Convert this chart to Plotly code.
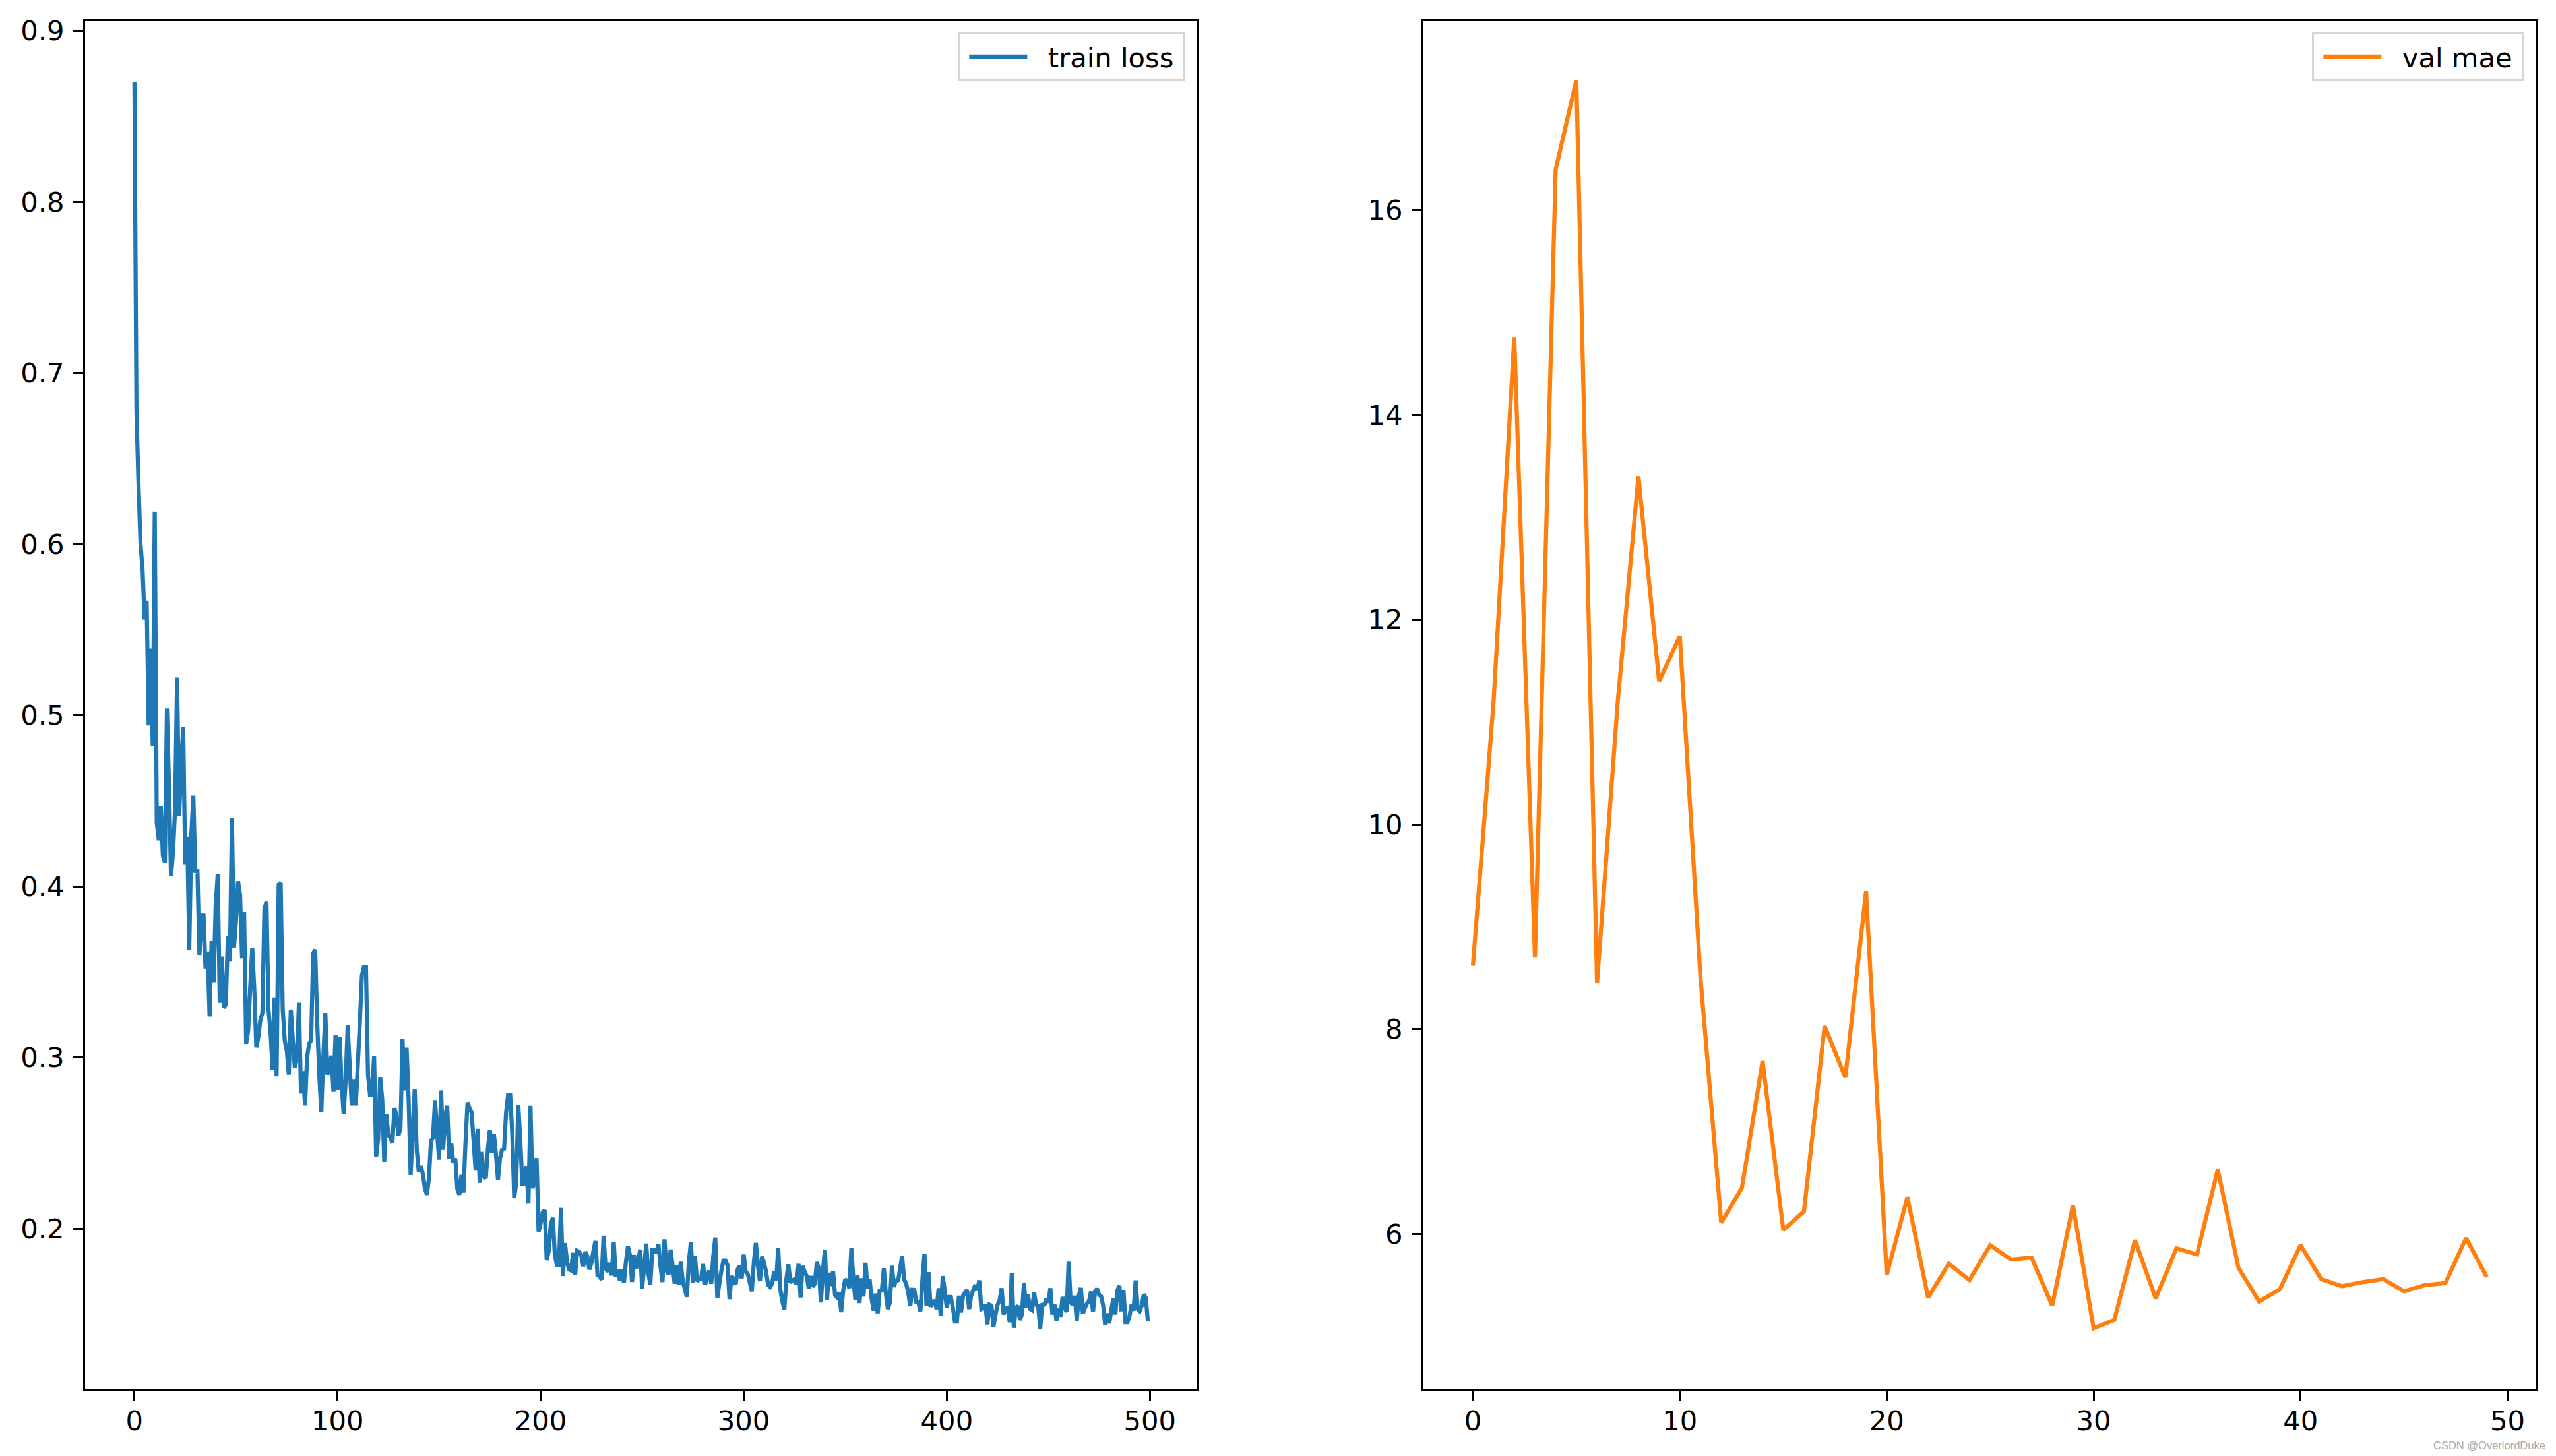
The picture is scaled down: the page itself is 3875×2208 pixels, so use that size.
import plotly.graph_objects as go

train_loss = [
 .87,.677,.635,.6,.585,.556,.567,.494,.539,.482,
 .619,.437,.427,.447,.418,.414,.504,.46,.406,.42,
 .445,.522,.441,.47,.493,.413,.429,.363,.43,.453,
 .408,.41,.36,.38,.384,.352,.362,.324,.368,.344,
 .389,.407,.332,.359,.329,.331,.371,.356,.44,.364,
 .38,.403,.395,.358,.385,.308,.316,.341,.364,.34,
 .306,.312,.322,.326,.387,.391,.328,.315,.293,.335,
 .289,.401,.402,.328,.31,.304,.29,.328,.31,.294,
 .3,.332,.279,.292,.272,.3,.308,.31,.361,.363,
 .32,.29,.268,.3,.326,.29,.295,.301,.28,.313,
 .281,.312,.285,.267,.286,.319,.295,.272,.287,.272,
 .296,.321,.348,.353,.353,.29,.278,.278,.301,.242,
 .2525,.2885,.2756,.239,.2667,.2551,.2532,.25,.2705,.266,
 .2544,.2589,.311,.2808,.3058,.2756,.2313,.2564,.2814,.2461,
 .2333,.2365,.232,.2236,.2198,.2294,.2512,.2532,.275,.2564,
 .2403,.2808,.2461,.2654,.2718,.241,.2499,.2384,.241,.223,
 .2198,.2313,.221,.25,.2737,.2705,.2679,.2512,.2339,.2583,
 .2268,.2448,.2307,.2294,.246,.2577,.2442,.2551,.2435,.2287,
 .241,.2461,.2467,.2679,.2782,.2782,.2564,.2178,.2268,.2724,
 .2512,.2262,.2262,.2365,.2146,.2718,.2236,.2281,.2412,.1983,
 .2031,.2095,.2108,.1816,.187,.2025,.2063,.1845,.1787,.1787,
 .2121,.1723,.1915,.1806,.1761,.1755,.1858,.1729,.187,.1864,
 .1845,.178,.1864,.1838,.1761,.18,.187,.1928,.1727,.1723,
 .1701,.1958,.1768,.1748,.18,.1727,.1922,.1719,.1761,.1697,
 .1761,.1682,.1806,.1896,.1845,.1688,.1845,.1768,.1806,.1877,
 .165,.178,.1912,.1742,.1674,.1877,.1877,.1858,.1909,.178,
 .1688,.1937,.1755,.1732,.1877,.178,.1678,.1787,.1671,.1806,
 .1691,.1646,.1601,.1806,.1922,.1682,.1838,.1693,.1703,.1706,
 .1793,.1671,.1716,.1755,.1678,.1838,.1947,.1594,.1678,.1755,
 .1813,.1813,.1787,.1588,.1723,.1704,.1672,.1761,.1783,.171,
 .1848,.1749,.1736,.1684,.1633,.1806,.1916,.1781,.1693,.1836,
 .18,.1749,.1672,.1659,.1678,.1752,.1697,.1886,.1646,.1575,
 .1528,.1704,.1791,.1684,.1697,.1704,.1672,.1794,.1598,.1781,
 .1749,.1723,.1652,.1723,.1661,.1678,.1804,.1768,.1569,.1755,
 .1877,.1582,.1742,.1665,.1752,.161,.1598,.1627,.1511,.1639,
 .1704,.1691,.1652,.1886,.1704,.1582,.1727,.1565,.171,.1603,
 .18,.1652,.1704,.1588,.1521,.162,.1505,.1646,.1633,.1768,
 .162,.153,.1569,.1783,.1659,.1704,.1691,.1768,.1838,.1704,
 .1678,.1627,.1547,.1643,.1642,.1569,.1569,.1517,.1704,.1851,
 .155,.1745,.1543,.1575,.1575,.153,.1652,.1491,.1722,.1639,
 .1536,.16,.16,.1536,.1457,.1457,.1607,.151,.1607,.1626,
 .1641,.153,.1607,.1639,.1671,.1639,.1697,.153,.1536,.1555,
 .144,.1555,.155,.1427,.1498,.1555,.1581,.1652,.1498,.1536,
 .1536,.1453,.1742,.142,.1536,.1549,.1466,.1498,.1684,.1536,
 .1613,.153,.1523,.1626,.1555,.1549,.1414,.1562,.1549,.1588,
 .1568,.1652,.1498,.156,.1462,.1536,.1485,.16,.1536,.1513,
 .1806,.1568,.1555,.1607,.1462,.1607,.1654,.1504,.1536,.1562,
 .1575,.1632,.1513,.1632,.1649,.1613,.1604,.1549,.1436,.1504,
 .1446,.1523,.1594,.1498,.1639,.1665,.1517,.1641,.1453,.1453,
 .1491,.1555,.1521,.1697,.153,.1517,.1549,.1616,.1594,.1459,
]
val_mae = [
 8.62,11.2,14.76,8.7,16.4,17.27,8.45,11.2,13.4,11.4,
 11.84,8.5,6.11,6.45,7.69,6.04,6.22,8.03,7.53,9.35,
 5.6,6.36,5.38,5.71,5.55,5.89,5.75,5.77,5.3,6.28,
 5.08,5.16,5.94,5.37,5.86,5.8,6.63,5.67,5.34,5.46,
 5.89,5.56,5.49,5.53,5.56,5.44,5.5,5.52,5.96,5.58,
]
train_x = list(range(len(train_loss)))
val_x = list(range(len(val_mae)))
train_name = "\u00a0\u00a0train loss\u2009"
val_name = "\u00a0\u00a0val mae\u2009"
train_ticks_x = [0, 100, 200, 300, 400, 500]
train_ticks_y = [0.2, 0.3, 0.4, 0.5, 0.6, 0.7, 0.8, 0.9]
val_ticks_x = [0, 10, 20, 30, 40, 50]
val_ticks_y = [6, 8, 10, 12, 14, 16]

W, H = 3875, 2208
FONT = dict(family="DejaVu Sans", size=41.67, color="black")

fig = go.Figure()
fig.add_trace(go.Scatter(x=train_x, y=train_loss, mode="lines", name=train_name, showlegend=True,
                         line=dict(color="#1f77b4", width=6.25, simplify=False),
                         xaxis="x", yaxis="y", legend="legend"))
fig.add_trace(go.Scatter(x=val_x, y=val_mae, mode="lines", name=val_name, showlegend=True,
                         line=dict(color="#ff7f0e", width=6.25, simplify=False),
                         xaxis="x2", yaxis="y2", legend="legend2"))

axis = dict(showgrid=False, zeroline=False, showline=True, mirror=True, linecolor="black",
            linewidth=3.33, ticks="outside", ticklen=14.6, tickwidth=3.33, tickcolor="black",
            tickfont=FONT, automargin=False)
xaxis_extra = dict(ticklabelstandoff=-6)
yaxis_extra = dict(ticklabelstandoff=5)
top = 1 - 31.7 / H
bot = 1 - 2107.3 / H
legend_common = dict(bgcolor="rgba(255,255,255,0.8)", bordercolor="#d6d6d6", borderwidth=3.33,
                     font=FONT, itemwidth=88, xanchor="right", yanchor="top", indentation=9,
                     itemclick=False, itemdoubleclick=False)
fig.update_layout(
    width=W, height=H, autosize=False, margin=dict(l=0, r=0, t=0, b=0), showlegend=True,
    paper_bgcolor="white", plot_bgcolor="white", font=FONT,
    xaxis=dict(axis, **xaxis_extra, domain=[128.7 / W, 1815.3 / W], range=[-24.4, 523.4],
               tickvals=train_ticks_x, anchor="y"),
    yaxis=dict(axis, **yaxis_extra, domain=[bot, top], range=[0.1059, 0.9058], tickvals=train_ticks_y,
               tickformat=".1f", anchor="x"),
    xaxis2=dict(axis, **xaxis_extra, domain=[2157.7 / W, 3845.3 / W], range=[-2.4, 51.4],
                tickvals=val_ticks_x, anchor="y2"),
    yaxis2=dict(axis, **yaxis_extra, domain=[bot, top], range=[4.48, 17.85], tickvals=val_ticks_y, anchor="x2"),
    legend=dict(legend_common, x=1797 / W, y=1 - 49 / H),
    legend2=dict(legend_common, x=3826 / W, y=1 - 49 / H),
    annotations=[dict(text="CSDN @OverlordDuke", xref="paper", yref="paper", x=3861 / W, y=1 - 2192 / H,
                      xanchor="right", yanchor="middle", showarrow=False,
                      font=dict(family="Liberation Sans", size=16.5, color="#a8a8a8"))],
)
fig.write_html("out.html", config={"displayModeBar": False}, post_script="document.body.style.margin='0';")
